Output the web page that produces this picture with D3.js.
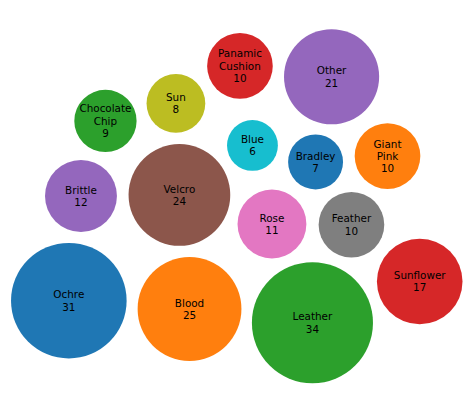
<!DOCTYPE html>
<html>
<head>
<meta charset="utf-8">
<script src="https://cdn.jsdelivr.net/npm/d3@7"></script>
<style>
  html, body { margin: 0; padding: 0; background: #fff; }
  svg { display: block; }
</style>
</head>
<body>
<svg id="chart" width="474" height="413"></svg>
<script>
// bubble data, in plotting order (colours cycle through tab10)
var names = ["Ochre", "Blood", "Leather", "Sunflower", "Brittle", "Velcro", "Rose", "Feather",
             "Sun", "Blue", "Bradley", "Giant\nPink", "Chocolate\nChip", "Panamic\nCushion", "Other"];
var counts = [31, 25, 34, 17, 12, 24, 11, 10, 8, 6, 7, 10, 9, 10, 21];
// packed bubble centres (data units, area of a bubble = count)
var centerX = [-9.14, -2.58, 4.10, 9.93, -8.48, -3.13, 1.90, 6.22, -3.32, 0.84, 4.27, 8.18, -7.15, 0.16, 5.14];
var centerY = [-5.12, -5.57, -6.32, -4.08, 0.57, 0.63, -0.95, -0.99, 5.60, 3.32, 2.42, 2.74, 4.65, 7.64, 7.05];

var svg = d3.select("#chart"),
    width = +svg.attr("width"),
    height = +svg.attr("height");

// equal aspect axes
var unit = 18.4;
var x = d3.scaleLinear().domain([-width / 2 / unit, width / 2 / unit]).range([0, width]);
var y = d3.scaleLinear().domain([-(height - 206.5) / unit, 206.5 / unit]).range([height, 0]);
var color = d3.scaleOrdinal(d3.schemeCategory10);

var data = names.map(function(n, i) {
  return {name: n, value: counts[i], x: centerX[i], y: centerY[i], r: Math.sqrt(counts[i] / Math.PI)};
});

var g = svg.selectAll("g.bubble")
  .data(data)
  .enter().append("g")
    .attr("class", "bubble")
    .attr("transform", function(d) { return "translate(" + x(d.x) + "," + y(d.y) + ")"; });

g.append("circle")
    .attr("r", function(d) { return x(d.r) - x(0); })
    .attr("fill", function(d, i) { return color(i); });

var lineH = 12.3;
g.append("text")
    .attr("text-anchor", "middle")
    .attr("font-family", "DejaVu Sans, sans-serif")
    .attr("font-size", "10.4px")
    .attr("fill", "#000")
    .each(function(d) {
      var lines = d.name.split("\n").concat([String(d.value)]);
      var t = d3.select(this);
      var y0 = -(lines.length - 1) * lineH / 2;
      lines.forEach(function(l, k) {
        t.append("tspan")
          .attr("x", 0)
          .attr("y", y0 + k * lineH)
          .attr("dy", "0.36em")
          .text(l);
      });
    });
</script>
</body>
</html>
